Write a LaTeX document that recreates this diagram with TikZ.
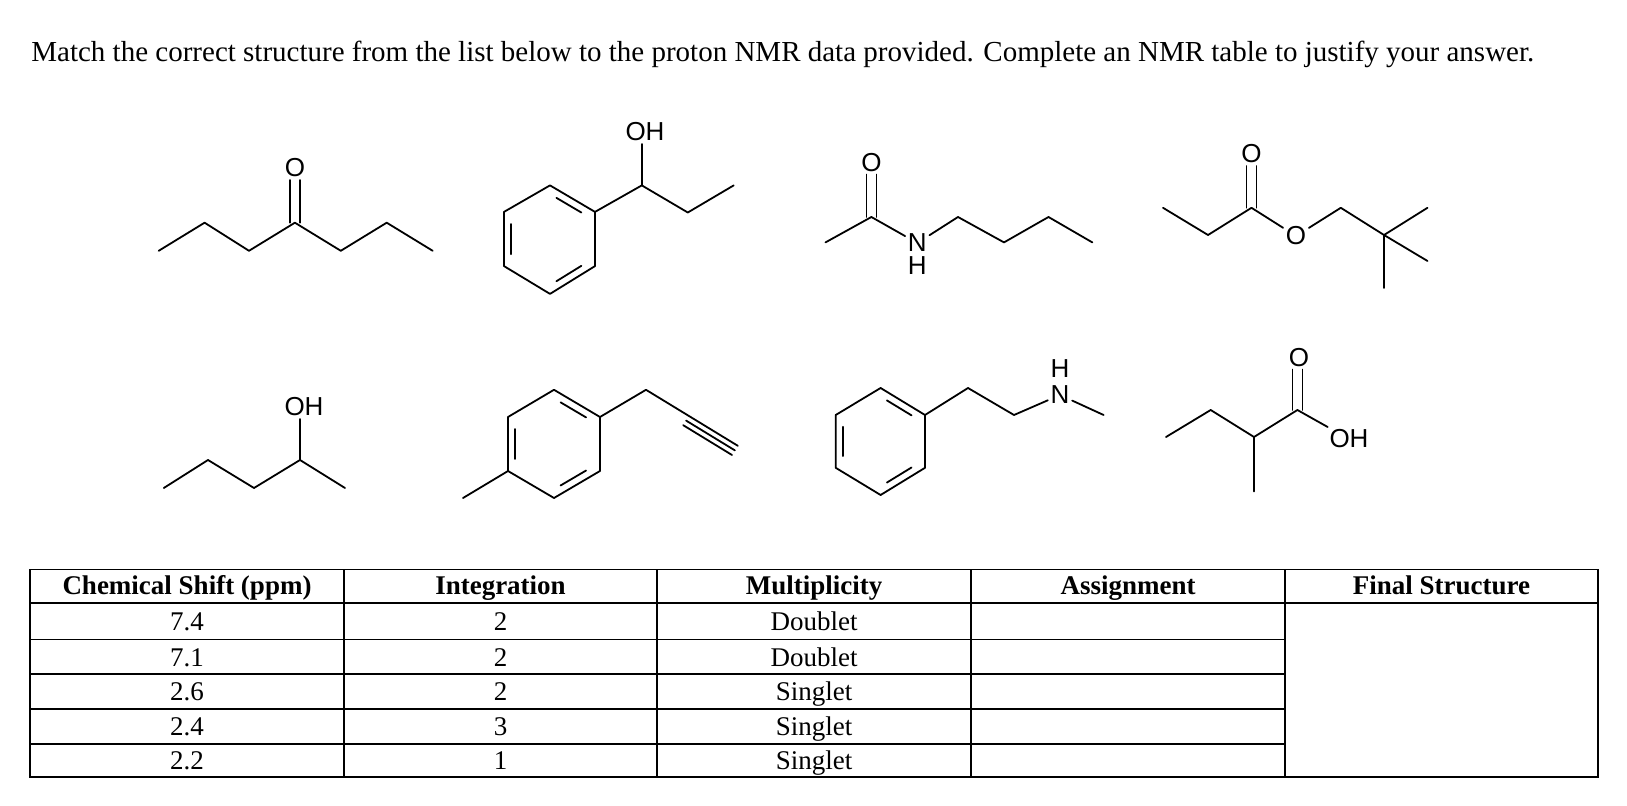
\documentclass[tikz,border=0pt]{standalone}
\usepackage{fontspec}
\setmainfont{Liberation Serif}
\newfontfamily\molfont{Liberation Sans}
\usetikzlibrary{calc}
\tikzset{
  bond/.style={line width=0.9pt,line cap=round,line join=round},
  atom/.style={font=\molfont\fontsize{13}{13}\selectfont,inner sep=1.2pt},
  tline/.style={line width=0.8pt},
  th/.style={font=\bfseries\fontsize{13.5}{14}\selectfont,anchor=base},
  td/.style={font=\fontsize{13.5}{14}\selectfont,anchor=base},
}
\newcommand{\innerbond}[3]{\draw[bond] ($ ($(#1)!0.17!(#2)$)!0.16!(#3) $) -- ($ ($(#1)!0.83!(#2)$)!0.16!(#3) $);}
\begin{document}
\begin{tikzpicture}[x=0.5pt,y=-0.5pt]
\useasboundingbox (0,0) rectangle (1627,806);
\node[anchor=base west,font=\fontsize{14.5}{15}\selectfont,inner sep=0] (title) at (31,62) {Match the correct structure from the list below to the proton NMR data provided. Complete an NMR table to justify your answer.};

% ketone
\coordinate (k1) at (158.7,250.8); \coordinate (k2) at (204.6,222.7); \coordinate (k3) at (249,250.8);
\coordinate (k4) at (294.9,222.7); \coordinate (k5) at (340.8,250.8); \coordinate (k6) at (386.7,222.7); \coordinate (k7) at (432.7,250.8);
\node[atom] (kO) at (294.9,168) {O};
\draw[bond] (k1)--(k2)--(k3)--(k4)--(k5)--(k6)--(k7);
\draw[bond] ([xshift=-2.5]k4) -- ([xshift=-2.5]kO.south);
\draw[bond] ([xshift=2.5]k4) -- ([xshift=2.5]kO.south);

% 1-phenylpropanol
\coordinate (a1) at (550,185.4); \coordinate (a2) at (595,211.9); \coordinate (a3) at (595,266.1);
\coordinate (a4) at (550,293.9); \coordinate (a5) at (504,266.1); \coordinate (a6) at (504,211.9);
\coordinate (ac) at (550,239.6);
\draw[bond] (a1)--(a2)--(a3)--(a4)--(a5)--(a6)--cycle;
\innerbond{a1}{a2}{ac} \innerbond{a3}{a4}{ac} \innerbond{a5}{a6}{ac}
\coordinate (b1) at (641.8,185.4); \coordinate (b2) at (687.8,212.5); \coordinate (b3) at (733.7,185.4);
\node[atom] (bO) at (645,132) {OH};
\draw[bond] (a2)--(b1)--(b2)--(b3);
\draw[bond] (b1)--(b1|-bO.south);

% pentan-2-ol
\coordinate (p1) at (163.8,488); \coordinate (p2) at (208,460); \coordinate (p3) at (254,488);
\coordinate (p4) at (300,460); \coordinate (p5) at (345,488);
\node[atom] (pO) at (304,407) {OH};
\draw[bond] (p1)--(p2)--(p3)--(p4)--(p5);
\draw[bond] (p4)--(p4|-pO.south);

% methylphenyl propyne
\coordinate (m1) at (554,389.8); \coordinate (m2) at (600,417); \coordinate (m3) at (600,471);
\coordinate (m4) at (554,498); \coordinate (m5) at (508,471); \coordinate (m6) at (508,417);
\coordinate (mc) at (554,443.9);
\draw[bond] (m1)--(m2)--(m3)--(m4)--(m5)--(m6)--cycle;
\innerbond{m1}{m2}{mc} \innerbond{m3}{m4}{mc} \innerbond{m5}{m6}{mc}
\coordinate (me) at (463,498); \coordinate (n1) at (646,389.8); \coordinate (n2) at (689,416); \coordinate (n3) at (737.8,445.8);
\draw[bond] (m5)--(me);
\draw[bond] (m2)--(n1)--(n3);
\draw[bond] ([shift={(-2.9,4.6)}]n2)--([shift={(-2.9,4.6)}]n3);
\draw[bond] ([shift={(-5.8,9.2)}]n2)--([shift={(-5.8,9.2)}]n3);

% amide
\coordinate (d1) at (825.5,242.4); \coordinate (d2) at (871.4,217);
\node[atom] (dO) at (871.4,162.5) {O};
\node[atom] (dN) at (917.3,243) {N};
\node[atom] (dH) at (917.3,266) {H};
\coordinate (d3) at (958,217); \coordinate (d4) at (1004,242.4); \coordinate (d5) at (1048.5,217); \coordinate (d6) at (1092.3,242.4);
\draw[bond] (d1)--(d2)--(dN)--(d3)--(d4)--(d5)--(d6);
\draw[bond] ([xshift=-2.5]d2) -- ([xshift=-2.5]dO.south);
\draw[bond] ([xshift=2.5]d2) -- ([xshift=2.5]dO.south);

% ester
\coordinate (e1) at (1163,207.8); \coordinate (e2) at (1208,235); \coordinate (e3) at (1251.5,207.8);
\node[atom] (eO1) at (1251.5,154) {O};
\node[atom] (eO2) at (1296,236) {O};
\coordinate (e4) at (1340.8,207.8); \coordinate (e5) at (1384,235); \coordinate (e6) at (1427.5,207.8);
\coordinate (e7) at (1427.5,261); \coordinate (e8) at (1384,288);
\draw[bond] (e1)--(e2)--(e3)--(eO2)--(e4)--(e5)--(e6);
\draw[bond] (e5)--(e7); \draw[bond] (e5)--(e8);
\draw[bond] ([xshift=-2.5]e3) -- ([xshift=-2.5]eO1.south);
\draw[bond] ([xshift=2.5]e3) -- ([xshift=2.5]eO1.south);

% amine
\coordinate (r1) at (880.6,388); \coordinate (r2) at (925,415); \coordinate (r3) at (925,467.8);
\coordinate (r4) at (880.6,495); \coordinate (r5) at (835.7,467.8); \coordinate (r6) at (835.7,415);
\coordinate (rc) at (880.4,441.5);
\draw[bond] (r1)--(r2)--(r3)--(r4)--(r5)--(r6)--cycle;
\innerbond{r1}{r2}{rc} \innerbond{r3}{r4}{rc} \innerbond{r5}{r6}{rc}
\coordinate (s1) at (968,388); \coordinate (s2) at (1014,415);
\node[atom] (sN) at (1060,395) {N};
\node[atom] (sH) at (1060,369) {H};
\coordinate (s3) at (1103.6,415);
\draw[bond] (r2)--(s1)--(s2)--(sN)--(s3);

% acid
\coordinate (c1) at (1166,437); \coordinate (c2) at (1210.7,410); \coordinate (c3) at (1254,437);
\coordinate (c4) at (1254,491.5); \coordinate (c5) at (1297.4,410);
\node[atom] (cO) at (1299,357.6) {O};
\node[atom] (cOH) at (1349,439) {OH};
\draw[bond] (c1)--(c2)--(c3)--(c5)--(cOH);
\draw[bond] (c3)--(c4);
\draw[bond] ([xshift=-2.5]c5) -- ([xshift=-2.5]c5|-cO.south);
\draw[bond] ([xshift=2.5]c5) -- ([xshift=2.5]c5|-cO.south);

% table
\draw[tline] (30,569.5) rectangle (1598,777);
\draw[tline] (30,603) -- (1598,603);
\foreach \y in {639.4,674,709,744} \draw[tline] (30,\y) -- (1285,\y);
\foreach \x in {344,657,971,1285} \draw[tline] (\x,569.5) -- (\x,777);
\node[th] (h1) at (187,595) {Chemical Shift (ppm)};
\node[th] (h2) at (500.5,595) {Integration};
\node[th] (h3) at (814,595) {Multiplicity};
\node[th] (h4) at (1128,595) {Assignment};
\node[th] (h5) at (1441.5,595) {Final Structure};
\foreach \y/\s/\i/\m [count=\k] in {630.5/7.4/2/Doublet,666/7.1/2/Doublet,700.5/2.6/2/Singlet,735.5/2.4/3/Singlet,769.5/2.2/1/Singlet}{
  \node[td] (cs\k) at (187,\y) {\s};
  \node[td] (ci\k) at (500.5,\y) {\i};
  \node[td] (cm\k) at (814,\y) {\m};
}
\end{tikzpicture}
\end{document}
